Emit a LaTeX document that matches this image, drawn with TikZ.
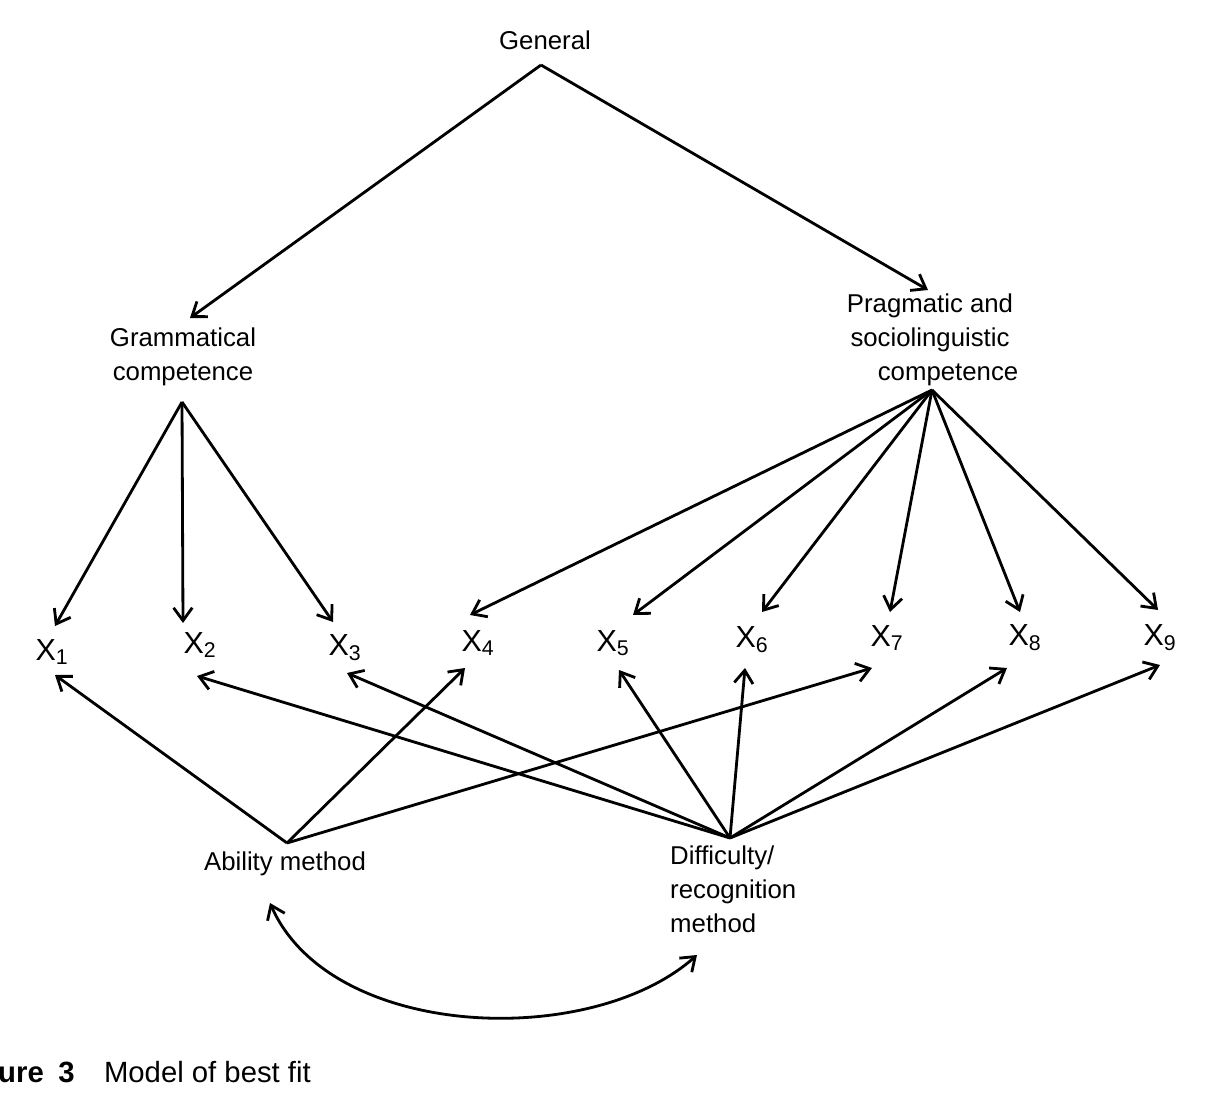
\documentclass[tikz,border=0pt]{standalone}
\usepackage{fontspec}
\setmainfont{Liberation Sans}
\usetikzlibrary{arrows.meta}
\begin{document}
\begin{tikzpicture}[x=0.03cm,y=-0.03cm,
  lab/.style={inner sep=0pt,font=\fontsize{22}{29}\selectfont},
  arr/.style={line width=2.4pt,-{Straight Barb[length=11pt,width=16pt]}},
  dbl/.style={line width=2.4pt,{Straight Barb[length=11pt,width=16pt]}-{Straight Barb[length=11pt,width=16pt]}}]
\useasboundingbox (0,0) rectangle (1223,1104);
\node[lab] (gen) at (545,40) {General};
\coordinate (genp) at (541,65);
\node[lab,align=center] (gram) at (183,357) {Grammatical\\competence};
\coordinate (gramp) at (182,402);
\node[lab,align=center] (prag) at (930,340) {Pragmatic and\\sociolinguistic\\\hspace*{1.4em}competence};
\coordinate (pragp) at (932,390);
\node[lab] (abl) at (285,864) {Ability method};
\coordinate (ablp) at (287,843);
\node[lab,align=left,anchor=north west] (dif) at (670,846) {Difficulty/\\recognition\\method};
\coordinate (difp) at (730,838);
\foreach \i/\x/\y in {1/52/652,2/200/645,3/345/648,4/478/643,5/613/643,6/752/640,7/887/638,8/1025/638,9/1160/638}
  \node[lab,font=\fontsize{26}{30}\selectfont] (x\i) at (\x,\y) {X\textsubscript{\i}};
\draw[arr] (genp) -- (190,318);
\draw[arr] (genp) -- (928,290);
\draw[arr] (gramp) -- (55,626);
\draw[arr] (gramp) -- (183,623);
\draw[arr] (gramp) -- (333,622);
\draw[arr] (pragp) -- (470,615);
\draw[arr] (pragp) -- (633,615);
\draw[arr] (pragp) -- (762,612);
\draw[arr] (pragp) -- (890,612);
\draw[arr] (pragp) -- (1020,612);
\draw[arr] (pragp) -- (1158,610);
\draw[arr] (ablp) -- (55,675);
\draw[arr] (ablp) -- (465,668);
\draw[arr] (ablp) -- (872,668);
\draw[arr] (difp) -- (197,676);
\draw[arr] (difp) -- (347,673);
\draw[arr] (difp) -- (619,670);
\draw[arr] (difp) -- (745,668);
\draw[arr] (difp) -- (1007,668);
\draw[arr] (difp) -- (1160,665);
\coordinate (c1) at (270,903);
\coordinate (c2) at (697,955);
\draw[dbl] (c1) .. controls (330,1040) and (590,1050) .. (c2);
\node[lab,anchor=west,font=\fontsize{25}{30}\selectfont] (cap) at (-2,1072) {\textbf{ure\enspace 3}\quad Model of best fit};
\end{tikzpicture}
\end{document}
